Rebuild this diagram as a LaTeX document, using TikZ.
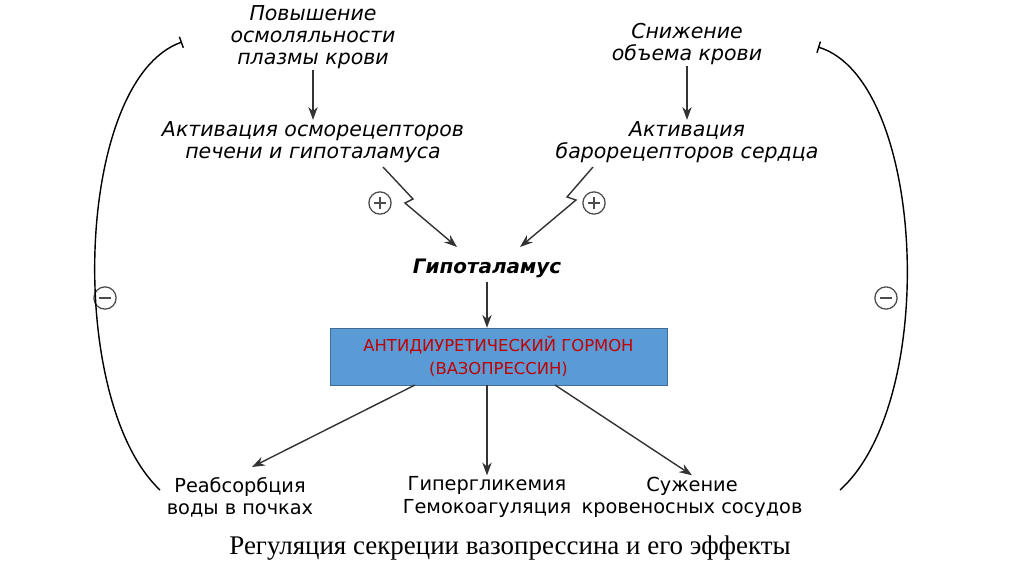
\documentclass[tikz,border=0pt]{standalone}
\usepackage{fontspec}
\setmainfont{Liberation Serif}
\setsansfont{DejaVu Sans}
\usetikzlibrary{arrows.meta,calc}
\definecolor{boxblue}{HTML}{5B9BD5}
\definecolor{boxred}{HTML}{C00000}
\tikzset{
  lbl/.style={font=\sffamily\itshape\fontsize{17.5}{19}\selectfont, align=center, inner sep=1pt},
  eff/.style={font=\sffamily\fontsize{16.5}{19}\selectfont, align=center, inner sep=1pt},
  arr/.style={-{Stealth[length=11pt,width=8pt]}, line width=1.2pt, draw=black!80},
  sign/.style={circle, draw=black!70, line width=1.1pt, minimum size=19pt, inner sep=0pt},
}
\begin{document}
\begin{tikzpicture}[x=0.03cm, y=-0.03cm]
    \useasboundingbox (0,0) rectangle (1024,574);
    \node[lbl] (osm) at (313,37) {Повышение\\осмоляльности\\плазмы крови};
    \node[lbl] (vol) at (687,44) {Снижение\\объема крови};
    \node[lbl] (osr) at (313,142) {Активация осморецепторов\\печени и гипоталамуса};
    \node[lbl] (bar) at (687,142) {Активация\\барорецепторов сердца};
    \node[font=\sffamily\bfseries\itshape\fontsize{17}{19}\selectfont] (hyp) at (487,268) {Гипоталамус};
    \node[draw=boxblue!70!black, fill=boxblue, text=boxred, minimum width=337*0.03cm, minimum height=57*0.03cm,
          font=\sffamily\fontsize{14}{20}\selectfont, align=center] (adh) at (498.5,356.5)
          {АНТИДИУРЕТИЧЕСКИЙ ГОРМОН\\(ВАЗОПРЕССИН)};
    \node[eff] (reab) at (240,497) {Реабсорбция\\воды в почках};
    \node[eff] (glyc) at (487,497) {Гипергликемия\\Гемокоагуляция};
    \node[eff] (vaso) at (692,497) {Сужение\\кровеносных сосудов};
    \node[font=\fontsize{23}{26}\selectfont] (cap) at (510,548) {Регуляция секреции вазопрессина и его эффекты};
    % signs
    \node[sign] (p1) at (380,203) {}; \draw[line width=1.1pt, black!70] ($(p1)+(-6,0)$) -- ($(p1)+(6,0)$) ($(p1)+(0,-6)$) -- ($(p1)+(0,6)$);
    \node[sign] (p2) at (594,203) {}; \draw[line width=1.1pt, black!70] ($(p2)+(-6,0)$) -- ($(p2)+(6,0)$) ($(p2)+(0,-6)$) -- ($(p2)+(0,6)$);
    \node[sign] (m1) at (105,298) {}; \draw[line width=1.1pt, black!70] ($(m1)+(-6,0)$) -- ($(m1)+(6,0)$);
    \node[sign] (m2) at (886,298) {}; \draw[line width=1.1pt, black!70] ($(m2)+(-6,0)$) -- ($(m2)+(6,0)$);
    % arrows
    \draw[arr] (osm) -- (osr);
    \draw[arr] (vol) -- (bar);
    \coordinate (z1) at (383,167); \coordinate (z2) at (457,247);
    \coordinate (z3) at (593,167); \coordinate (z4) at (520,247);
    \draw[arr] (z1) -- (413,199) -- (405,203) -- (z2);
    \draw[arr] (z3) -- (567,197) -- (576,200) -- (z4);
    \draw[arr] (hyp) -- (hyp |- adh.north);
    \coordinate (rtip) at (252,467);
    \draw[arr] (415,385) -- (rtip);
    \draw[arr] (adh.south -| glyc) -- (glyc);
    \draw[arr] (555,385) -- (vaso.north);
    % feedback
    \coordinate (l1) at (182,42); \coordinate (l2) at (160,490);
    \coordinate (r1) at (818,47); \coordinate (r2) at (840,490);
    \draw[line width=1.2pt, -{Bar[width=10pt]}] (l2) .. controls (65,400) and (75,80) .. (l1);
    \draw[line width=1.2pt, -{Bar[width=10pt]}] (r2) .. controls (940,400) and (925,80) .. (r1);
\end{tikzpicture}
\end{document}
